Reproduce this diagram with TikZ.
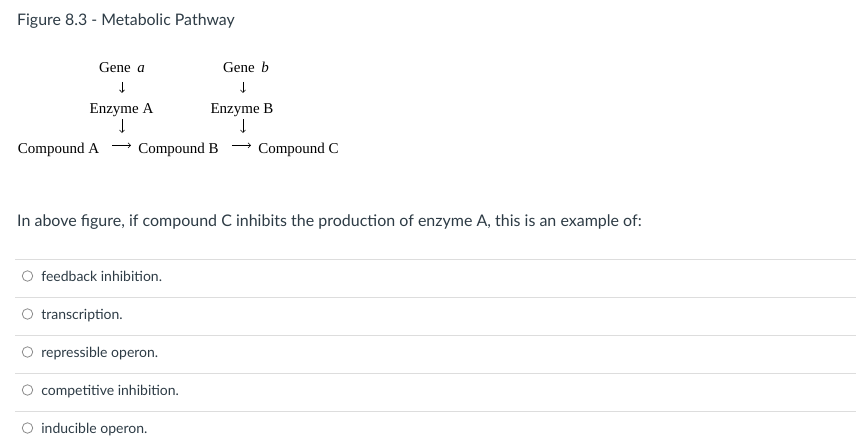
\documentclass[tikz,border=0pt]{standalone}
\usepackage{fontspec}
\setmainfont{Liberation Serif}
\newfontfamily\latofont{Lato}
\usepackage{xcolor}
\usetikzlibrary{arrows.meta,positioning}

\definecolor{canvasgray}{HTML}{2D3B45}
\definecolor{rulegray}{HTML}{DDDDDD}
\definecolor{radiogray}{HTML}{8B8B8B}

\begin{document}
\begin{tikzpicture}[
  x=1pt, y=-1pt,
  fig/.style={font=\fontsize{15}{18}\selectfont, inner sep=0pt, anchor=base},
  arr/.style={line width=0.6pt, -{Straight Barb[length=2.6pt,width=5pt]}},
  title/.style={font=\latofont\fontsize{15.9}{18}\selectfont, text=canvasgray, inner sep=0pt, anchor=base west},
  question/.style={font=\latofont\fontsize{16}{18}\selectfont, text=canvasgray, inner sep=0pt, anchor=base west},
  radio/.style={circle, draw=radiogray, line width=0.8pt, minimum size=10.5pt, inner sep=0pt},
  opt/.style={font=\latofont\fontsize{14}{16}\selectfont, text=canvasgray, inner sep=0pt, text height=10pt, text depth=0pt},
  sep/.style={rulegray, line width=1pt}
]
\useasboundingbox (0,0) rectangle (856,447);

\node[title] (ttl) at (17,25.5) {Figure 8.3 - Metabolic Pathway};

\node[fig] (geneA) at (122,72.5) {Gene\hspace{3pt} \textit{a}};
\node[fig] (geneB) at (246,72.5) {Gene\hspace{3pt} \textit{b}};
\node[fig] (enzA) at (121.5,113) {Enzyme A};
\node[fig] (enzB) at (242,113) {Enzyme B};
\node[fig] (compA) at (58.5,153) {Compound A};
\node[fig] (compB) at (178.5,153) {Compound B};
\node[fig] (compC) at (298.5,153) {Compound C};
\coordinate (rxnA) at (122,145.5);
\coordinate (rxnB) at (243,145.5);

\draw[arr, shorten <=9pt, shorten >=10pt] (geneA.south -| rxnA) -- (enzA.north -| rxnA);
\draw[arr, shorten <=9pt, shorten >=10pt] (geneB.south -| rxnB) -- (enzB.north -| rxnB);
\draw[arr, shorten <=3pt, shorten >=12.5pt] (enzA.south -| rxnA) -- (rxnA);
\draw[arr, shorten <=3pt, shorten >=12.5pt] (enzB.south -| rxnB) -- (rxnB);
\draw[arr, shorten <=13pt, shorten >=7pt] ([yshift=4pt]compA.east) -- ([yshift=4pt]compB.west);
\draw[arr, shorten <=13pt, shorten >=7pt] ([yshift=4pt]compB.east) -- ([yshift=4pt]compC.west);

\node[question] (qst) at (17,226.5) {In above figure, if compound C inhibits the production of enzyme A, this is an example of:};

\draw[sep] (15,259.5) -- (856,259.5);
\node[radio] (r1) at (27.5,276) {};
\node[opt, right=8pt of r1] (o1) {feedback inhibition.};

\draw[sep] (15,297.5) -- (856,297.5);
\node[radio] (r2) at (27.5,314) {};
\node[opt, right=8pt of r2] (o2) {transcription.};

\draw[sep] (15,335.5) -- (856,335.5);
\node[radio] (r3) at (27.5,352) {};
\node[opt, right=8pt of r3] (o3) {repressible operon.};

\draw[sep] (15,373.5) -- (856,373.5);
\node[radio] (r4) at (27.5,390) {};
\node[opt, right=8pt of r4] (o4) {competitive inhibition.};

\draw[sep] (15,411.5) -- (856,411.5);
\node[radio] (r5) at (27.5,428) {};
\node[opt, right=8pt of r5] (o5) {inducible operon.};
\end{tikzpicture}
\end{document}
